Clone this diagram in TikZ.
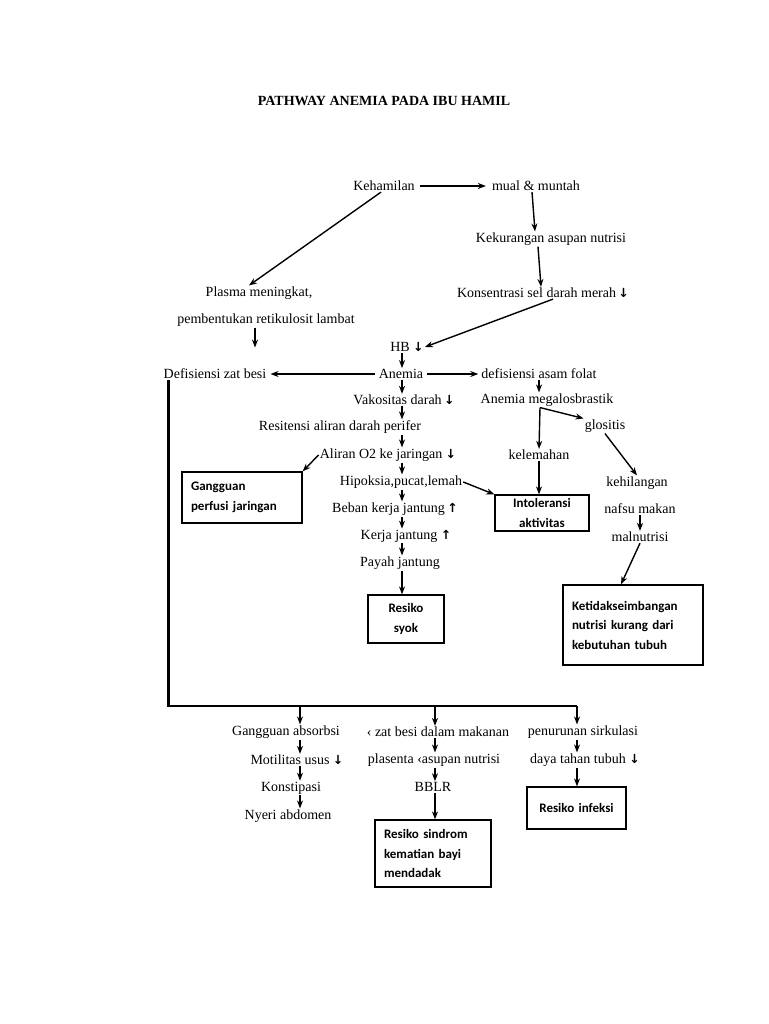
\documentclass[tikz,border=0pt]{standalone}
\usepackage{fontspec}
\setmainfont{Liberation Serif}
\newfontfamily\kotakfont{Carlito}
\newfontfamily\panahfont{DejaVu Sans}
\usetikzlibrary{arrows.meta}
\newcommand{\turun}{{\panahfont\bfseries\fontsize{12.5}{12}\selectfont ↓}}
\newcommand{\naik}{{\panahfont\bfseries\fontsize{12.5}{12}\selectfont ↑}}

\tikzset{
  teks/.style={inner sep=1pt, font=\fontsize{14}{16}\selectfont},
  kotak/.style={draw, line width=1.2pt, inner xsep=9pt, inner ysep=0pt,
    font=\kotakfont\bfseries\fontsize{13}{19.5}\selectfont},
  panah/.style={-{Stealth[length=8pt,width=6pt]}, line width=1.4pt},
  garis/.style={line width=2.2pt},
}

\begin{document}
\begin{tikzpicture}[x=1pt,y=-1pt]
\useasboundingbox[fill=white] (0,0) rectangle (768,1024);

% judul
\node[teks, font=\bfseries\fontsize{14}{16}\selectfont] (judul) at (384,101) {PATHWAY ANEMIA PADA IBU HAMIL};

% bagian atas
\node[teks] (hamil) at (384,186) {Kehamilan};
\node[teks] (mual) at (536,186) {mual \& muntah};
\node[teks] (kurangnutri) at (551,239) {Kekurangan asupan nutrisi};
\node[teks] (konsentrasi) at (543,293) {Konsentrasi sel darah merah\,\turun};
\node[teks] (plasma) at (259,293) {Plasma meningkat,};
\node[teks] (retikulosit) at (266,320) {pembentukan retikulosit lambat};
\node[teks] (hb) at (407,347) {HB \turun};
\node[teks] (anemia) at (401,374) {Anemia};
\node[teks] (defbesi) at (215,374) {Defisiensi zat besi};
\node[teks] (deffolat) at (539,374) {defisiensi asam folat};

% kolom tengah
\node[teks] (vakositas) at (404,400) {Vakositas darah\,\turun};
\node[teks] (resitensi) at (340,427) {Resitensi aliran darah perifer};
\node[teks] (aliran) at (388,455) {Aliran O2 ke jaringan \turun};
\node[teks] (hipoksia) at (401,482) {Hipoksia,pucat,lemah};
\node[teks] (beban) at (395,509) {Beban kerja jantung\,\naik};
\node[teks] (kerja) at (406,536) {Kerja jantung \naik};
\node[teks] (payah) at (400,563) {Payah jantung};
\node[kotak, text width=58pt, minimum height=48pt, align=center] (syok) at (406,619) {Resiko\\syok};
\node[kotak, text width=102pt, minimum height=51pt, align=left] (perfusi) at (242,497.5) {Gangguan\\perfusi jaringan};

% kolom kanan
\node[teks] (megalo) at (547,400) {Anemia megalosbrastik};
\node[teks] (kelemahan) at (539,455) {kelemahan};
\node[teks] (glositis) at (605,426) {glositis};
\node[kotak, text width=76pt, minimum height=36pt, align=center] (intoleransi) at (542,513) {Intoleransi\\aktivitas};
\node[teks] (kehilangan) at (637,483) {kehilangan};
\node[teks] (nafsu) at (640,509) {nafsu makan};
\node[teks] (malnutrisi) at (640,537) {malnutrisi};
\node[kotak, text width=122pt, minimum height=80pt, align=left] (ketidak) at (633,625) {Ketidakseimbangan\\nutrisi kurang dari\\kebutuhan tubuh};

% bagian bawah
\node[teks] (absorbsi) at (286,732) {Gangguan absorbsi};
\node[teks] (zatbesi) at (438,732) {‹ zat besi dalam makanan};
\node[teks] (sirkulasi) at (583,732) {penurunan sirkulasi};
\node[teks] (motilitas) at (297,760) {Motilitas usus \turun};
\node[teks] (plasenta) at (434,760) {plasenta ‹asupan nutrisi};
\node[teks] (dayatahan) at (585,760) {daya tahan tubuh \turun};
\node[teks] (konstipasi) at (291,788) {Konstipasi};
\node[teks] (bblr) at (433,787) {BBLR};
\node[teks] (nyeri) at (288,816) {Nyeri abdomen};
\node[kotak, text width=81pt, minimum height=42pt, align=center] (infeksi) at (576.5,808) {Resiko infeksi};
\node[kotak, text width=98pt, minimum height=67pt, align=left] (sindrom) at (433,853.5) {Resiko sindrom\\kematian bayi\\mendadak};

\coordinate (tengah) at (402,0);
\coordinate (kolkiri) at (300,706);
\coordinate (koltengah) at (435,706);
\coordinate (kolkanan) at (577,706);

% panah atas
\draw[panah, shorten <=4pt, shorten >=5pt] (hamil.east) -- (mual.west);
\draw[panah] ([xshift=-4pt]mual.south) -- ([xshift=-16pt]kurangnutri.north);
\draw[panah] ([xshift=-13pt]kurangnutri.south) -- ([xshift=-2pt]konsentrasi.north);
\draw[panah] ([xshift=-3pt]hamil.south) -- ([xshift=-10pt]plasma.north);
\draw[panah] ([xshift=10pt]konsentrasi.south) -- (hb.east);
\draw[panah] ([xshift=-11pt]retikulosit.south) -- ++(0,20);
\draw[panah] (hb.south -| tengah) -- (anemia.north -| tengah);
\draw[panah, shorten <=3pt, shorten >=3pt] (anemia.west) -- (defbesi.east);
\draw[panah, shorten <=3pt, shorten >=2pt] (anemia.east) -- (deffolat.west);

% rantai tengah
\foreach \a/\b in {anemia/vakositas, vakositas/resitensi, resitensi/aliran, aliran/hipoksia,
  hipoksia/beban, beban/kerja, kerja/payah, payah/syok}
  \draw[panah] (\a.south -| tengah) -- (\b.north -| tengah);
\draw[panah] (aliran.west) -- (perfusi.north east);
\draw[panah] (hipoksia.east) -- (intoleransi.north west);

% rantai kanan
\coordinate (cabang) at ([xshift=-7pt]megalo.south);
\draw[panah] (deffolat.south) -- (megalo.north -| deffolat.south);
\draw[panah] (cabang) -- (kelemahan.north);
\draw[panah] (cabang) -- (glositis.north west);
\draw[panah] (kelemahan.south) -- (intoleransi.north -| kelemahan.south);
\draw[panah] (glositis.south) -- (kehilangan.north);
\draw[panah] (nafsu.south -| malnutrisi.north) -- (malnutrisi.north);
\draw[panah] (malnutrisi.south) -- ([xshift=-12pt]ketidak.north);

% cabang bawah
\draw[garis] ([xshift=6pt]defbesi.south west) |- (kolkanan);
\foreach \k/\n in {kolkiri/absorbsi, koltengah/zatbesi, kolkanan/sirkulasi}
  \draw[panah] (\k) -- (\n.north -| \k);
\foreach \a/\b/\k in {absorbsi/motilitas/kolkiri, motilitas/konstipasi/kolkiri, konstipasi/nyeri/kolkiri,
  zatbesi/plasenta/koltengah, plasenta/bblr/koltengah, bblr/sindrom/koltengah,
  sirkulasi/dayatahan/kolkanan, dayatahan/infeksi/kolkanan}
  \draw[panah] (\a.south -| \k) -- (\b.north -| \k);
\end{tikzpicture}
\end{document}
